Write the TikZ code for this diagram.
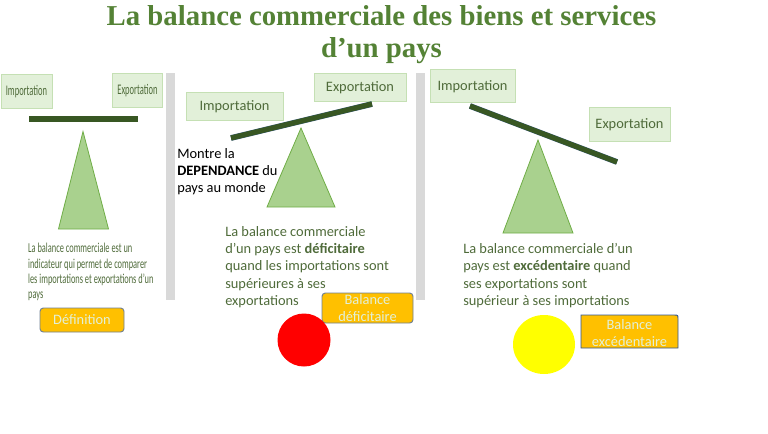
\documentclass[tikz,border=0pt]{standalone}
\usepackage{fontspec}
\setmainfont{Carlito}
\newfontfamily\titlefont{Liberation Serif}
\definecolor{titlegreen}{HTML}{548235}
\definecolor{boxgreen}{HTML}{E2F0D9}
\definecolor{boxline}{HTML}{C5E0B4}
\definecolor{trifill}{HTML}{A9D18E}
\definecolor{triline}{HTML}{70AD47}
\definecolor{bardark}{HTML}{385723}
\definecolor{barblue}{HTML}{2F5597}
\definecolor{textgreen}{HTML}{4F6B3A}
\definecolor{tagfill}{HTML}{FFC000}
\definecolor{tagline}{HTML}{6F7F93}
\definecolor{sepgrey}{HTML}{D9D9D9}
\definecolor{sunyellow}{rgb}{1,1,0}
\tikzset{
    labelbox/.style={draw=boxline,fill=boxgreen,line width=.6pt,text=textgreen,font=\fontsize{10.8}{12}\selectfont,inner sep=0pt,text depth=0pt},
    smalllabel/.style={text=textgreen,font=\fontsize{11}{12}\selectfont,xscale=.58,inner sep=0pt},
    tagbox/.style={draw=tagline,fill=tagfill,line width=.7pt,rounded corners=2.5pt,text=boxgreen,font=\fontsize{10.8}{13}\selectfont,inner sep=0pt,align=center},
    bodytext/.style={text=textgreen,font=\fontsize{10.8}{13}\selectfont,align=left,anchor=north west,inner sep=0pt},
    pivot/.style={draw=triline,fill=trifill,line width=.6pt},
    beam/.style={draw=bardark,line width=3.8pt},
    beamedge/.style={draw=barblue!70!bardark,line width=4.3pt},
    sepbar/.style={fill=sepgrey}
}
\begin{document}
\begin{tikzpicture}[x=.75pt,y=-.75pt]
    \useasboundingbox (0,0) rectangle (768,433);
    % titre
    \node[text=titlegreen,font=\titlefont\bfseries\fontsize{21.6}{24}\selectfont,align=center,inner sep=0pt] (titre) at (381.5,35) {La balance commerciale des biens et services\\d’un pays};
    % separateurs
    \fill[sepbar] (166,73) rectangle (175,300);
    \fill[sepbar] (416,73) rectangle (425,300);
    % balance equilibree
    \node[labelbox,minimum width=38.25pt,minimum height=25.5pt] (impA) at (26.5,91) {};
    \node[smalllabel] (impAtxt) at (26.5,91.5) {Importation};
    \node[labelbox,minimum width=37.5pt,minimum height=25.5pt] (expA) at (137,90) {};
    \node[smalllabel] (expAtxt) at (137.5,90.5) {Exportation};
    \draw[beamedge] (29,119)--(138,119);
    \draw[beam] (29,119)--(138,119);
    \draw[pivot] (83,131.5)--(108.5,229)--(58.5,229)--cycle;
    \node[text=textgreen,font=\fontsize{10.2}{11.5}\selectfont,xscale=.615,align=left,anchor=north west,inner sep=0pt] (txtA) at (28,243) {La balance commerciale est un\\indicateur qui permet de comparer\\les importations et exportations d’un\\pays};
    \node[tagbox,minimum width=63pt,minimum height=18pt,text depth=0pt] (tagA) at (82,320) {Définition};
    % balance deficitaire
    \node[labelbox,minimum width=72.75pt,minimum height=21pt] (impB) at (234.5,106) {Importation};
    \node[labelbox,minimum width=69pt,minimum height=21pt] (expB) at (360,87) {Exportation};
    \draw[beamedge] (231,138)--(372,104);
    \draw[beam] (231,138)--(372,104);
    \draw[pivot] (301,128)--(335,207)--(267,207)--cycle;
    \node[font=\fontsize{10.8}{13}\selectfont,align=left,anchor=north west,inner sep=0pt] (montre) at (177,148) {Montre la\\\textbf{DEPENDANCE} du\\pays au monde};
    \node[bodytext] (txtB) at (225,226) {La balance commerciale\\d’un pays est \textbf{déficitaire}\\quand les importations sont\\supérieures à ses\\exportations};
    \node[tagbox,minimum width=68.25pt,minimum height=22.5pt] (tagB) at (367.5,308) {Balance\\déficitaire};
    \fill[red] (304,340) circle[radius=26.5];
    % balance excedentaire
    \node[labelbox,minimum width=63.75pt,minimum height=24.75pt] (impC) at (472.5,85.5) {Importation};
    \node[labelbox,minimum width=60.75pt,minimum height=25.5pt] (expC) at (629.5,124) {Exportation};
    \draw[beamedge] (470,106)--(617,162);
    \draw[beam] (470,106)--(617,162);
    \draw[pivot] (538,140)--(573,233)--(503,233)--cycle;
    \node[bodytext] (txtC) at (463,243) {La balance commerciale d’un\\pays est \textbf{excédentaire} quand\\ses exportations sont\\supérieur à ses importations};
    \draw[draw=barblue,fill=tagfill,line width=.7pt] (581,315)--(674,315) .. controls (678,315) .. (678,319)--(678,348)--(581,348)--cycle;
    \node[text=boxgreen,font=\fontsize{10.8}{13}\selectfont,align=center,inner sep=0pt] (tagC) at (629.5,333) {Balance\\excédentaire};
    \fill[sunyellow] (544,344.5) ellipse[x radius=31,y radius=29.5];
\end{tikzpicture}
\end{document}
